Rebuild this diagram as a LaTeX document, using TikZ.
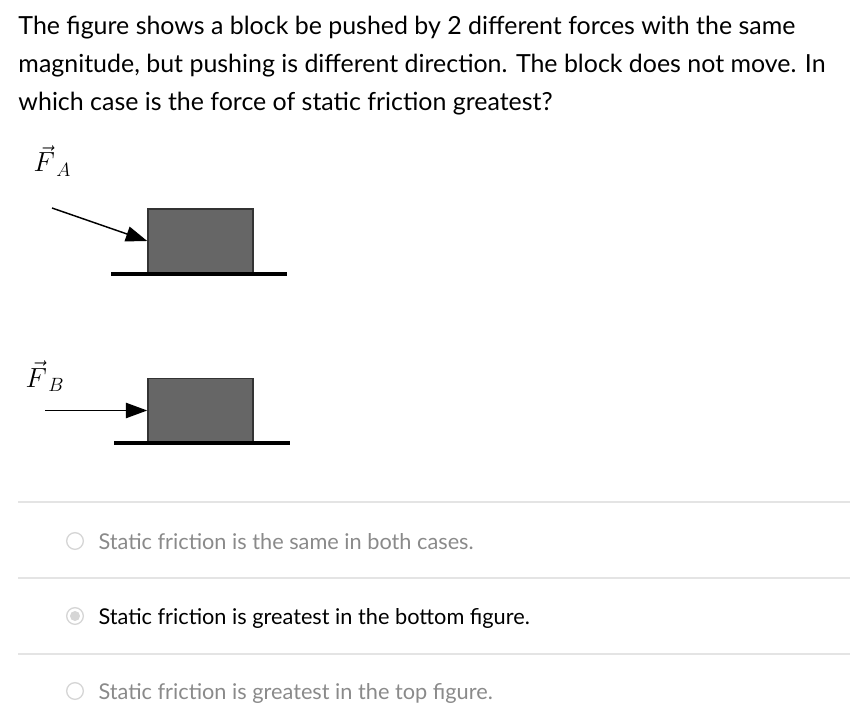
\documentclass[tikz,border=0pt]{standalone}
\usepackage{fontspec}
\setmainfont{Lato}
\usepackage{tikz}
\usetikzlibrary{arrows.meta}

\definecolor{rulegray}{HTML}{E4E4E4}
\definecolor{optgray}{HTML}{8A8A8A}
\definecolor{ringgray}{HTML}{D6D6D6}

\begin{document}
\begin{tikzpicture}[x=0.75pt, y=-0.75pt, line width=0.75pt,
    block/.style={draw=black!80, fill=black!60, line width=1.2pt, inner sep=0pt,
                  minimum width=78.75pt, minimum height=48pt},
    force/.style={-{Triangle[length=16pt, width=11.5pt]}, line width=1.1pt},
    ground/.style={line width=2.7pt},
    radio/.style={circle, draw=ringgray, fill=white, line width=1pt, minimum size=12.5pt, inner sep=0pt},
    question/.style={anchor=base west, inner sep=0pt, font=\fontsize{18.7}{22}\selectfont},
    option/.style={anchor=base west, inner sep=0pt, font=\fontsize{16.3}{19}\selectfont},
    flabel/.style={anchor=base west, inner sep=0pt, font=\fontsize{21}{24}\selectfont}]
    \useasboundingbox (0, 0) rectangle (866, 716);

    % draw question text
    \node[question] (line1) at (18, 35) {The figure shows a block be pushed by 2 different forces with the same};
    \node[question] (line2) at (18, 73) {magnitude, but pushing is different direction. The block does not move. In};
    \node[question] (line3) at (18, 111) {which case is the force of static friction greatest?};

    % draw top case
    \node[flabel] (labelA) at (33, 172) {$\vec{F}_{\;A}$};
    \node[block] (blockA) at (200.5, 241) {};
    \coordinate (tailA) at (52, 208);
    \draw[ground] (111, 274) -- (287, 274);
    \draw[force] (tailA) -- (blockA.west);

    % draw bottom case
    \node[flabel] (labelB) at (25, 387) {$\vec{F}_{\;B}$};
    \node[block] (blockB) at (200.5, 410.5) {};
    \coordinate (tailB) at (45, 410.5);
    \draw[ground] (114, 443) -- (290, 443);
    \draw[force] (tailB) -- (blockB.west);

    % draw separators
    \foreach \y in {502, 578, 654}
      \draw[rulegray, line width=1pt] (18, \y) -- (850, \y);

    % draw answer options
    \node[radio] (radioSame) at (75, 541) {};
    \node[option, text=optgray] (optSame) at (98, 549) {Static friction is the same in both cases.};

    \node[radio] (radioBottom) at (75, 616) {};
    \fill[ringgray] (radioBottom.center) circle (5);
    \node[option, text=black] (optBottom) at (98, 624) {Static friction is greatest in the bottom figure.};

    \node[radio] (radioTop) at (75, 691) {};
    \node[option, text=optgray] (optTop) at (98, 699) {Static friction is greatest in the top figure.};

\end{tikzpicture}
\end{document}
